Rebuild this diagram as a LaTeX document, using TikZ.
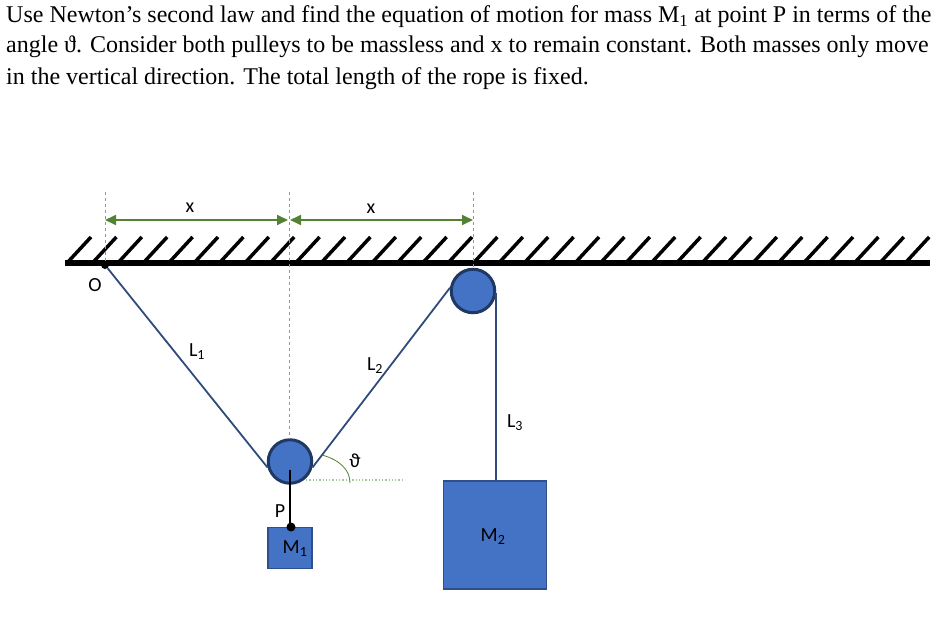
\documentclass[tikz,border=0pt]{standalone}
\usepackage{fontspec}
\setmainfont{Liberation Serif}
\newfontfamily\labelfont{Carlito}
\usetikzlibrary{positioning, arrows.meta}
\definecolor{pulleyfill}{HTML}{4472C4}
\definecolor{pulleyline}{HTML}{203864}
\definecolor{ropeblue}{HTML}{2F4B7C}
\definecolor{dimgreen}{HTML}{548235}
\definecolor{guidegreen}{HTML}{A9C795}
\definecolor{dashgreen}{HTML}{7FA860}
\tikzset{
    pulley/.style={circle,draw=pulleyline,fill=pulleyfill,line width=3pt,minimum size=43.5pt,inner sep=0pt},
    massbox/.style={rectangle,draw=pulleyline!60!pulleyfill,fill=pulleyfill,line width=1.8pt,inner sep=0pt},
    rope/.style={draw=ropeblue,line width=1.8pt},
    lbl/.style={font=\labelfont\fontsize{20}{22}\selectfont,inner sep=0pt,text=black},
    textline/.style={font=\fontsize{24}{26}\selectfont,anchor=base west,inner sep=0pt},
    guide/.style={draw=dashgreen,dashed,line width=1pt},
    dimline/.style={draw=dimgreen,line width=1.8pt,{Triangle[length=11pt,width=10pt]}-{Triangle[length=11pt,width=10pt]}}
}
\begin{document}
\begin{tikzpicture}[x=1pt,y=-1pt]
\useasboundingbox (0,0) rectangle (952,634);
% Question text
\node[textline] (lineA) at (6,23) {Use Newton’s second law and find the equation of motion for mass M\textsubscript{1} at point P in terms of the};
\node[textline] (lineB) at (6,52.5) {angle ϑ. Consider both pulleys to be massless and x to remain constant. Both masses only move};
\node[textline] (lineC) at (6,84) {in the vertical direction. The total length of the rope is fixed.};
% Ceiling
\foreach \i in {0,...,33}{
    \draw[line width=3.5pt] (67+25.4*\i,263) -- ++(24,-26);
}
\coordinate (ceilL) at (65,263);
\coordinate (ceilR) at (930,263);
\draw[line width=5.5pt] (ceilL) -- (ceilR);
% Pulleys and masses
\node[pulley] (pulleyA) at (290,461.5){};
\node[pulley] (pulleyB) at (473,291){};
\node[massbox,minimum width=44pt,minimum height=41pt] (massA) at (290,548){};
\node[massbox,minimum width=103pt,minimum height=108pt] (massB) at (495,535){};
\node[circle,fill=black,minimum size=9pt,inner sep=0pt] (pointP) at (291,527){};
\node[circle,fill=black,minimum size=8pt,inner sep=0pt] (pivotO) at (105,265){};
% Guides
\coordinate (guideA) at (105,192);
\coordinate (guideB) at (289,192);
\coordinate (guideC) at (473,192);
\draw[guide] (guideA) -- (pivotO);
\draw[guide] (guideB) -- (pulleyA.north -| guideB);
\draw[guide] (guideC) -- (pulleyB.north);
\coordinate (dimA) at (105,220);
\coordinate (dimB) at (288,220);
\coordinate (dimC) at (290,220);
\coordinate (dimD) at (473,220);
\draw[dimline] (dimA) -- (dimB);
\draw[dimline] (dimC) -- (dimD);
% Ropes
\draw[rope] (pivotO) -- (pulleyA.195);
\draw[rope] (pulleyA.-15) -- (pulleyB.172);
\draw[rope] (pulleyB.-5) -- (pulleyB.-5 |- massB.north);
\draw[line width=2pt] (pulleyA.center) ++(0,8) -- (pulleyA.center |- pointP);
% Angle
\coordinate (flatA) at (306,480);
\coordinate (flatB) at (405,480);
\draw[guidegreen,dotted,line width=1.3pt] (flatA) -- (flatB);
\coordinate (arcA) at (322,455);
\coordinate (arcB) at (350,483);
\draw[dimgreen,line width=0.8pt] (arcA) .. controls (340,460) and (350,470) .. (arcB);
% Labels
\node[lbl] (labelXA) at (190,208) {x};
\node[lbl] (labelXB) at (371,209) {x};
\node[lbl] (labelO) at (95,285) {O};
\node[lbl] (labelLA) at (197,352) {L\textsubscript{1}};
\node[lbl] (labelLB) at (375,366) {L\textsubscript{2}};
\node[lbl] (labelLC) at (515,423) {L\textsubscript{3}};
\node[lbl] (labelP) at (280,511) {P};
\node[lbl] (labelMA) at (295,549) {M\textsubscript{1}};
\node[lbl] (labelMB) at (493,537) {M\textsubscript{2}};
\node[lbl] (labelT) at (355,461) {ϑ};
\end{tikzpicture}
\end{document}
